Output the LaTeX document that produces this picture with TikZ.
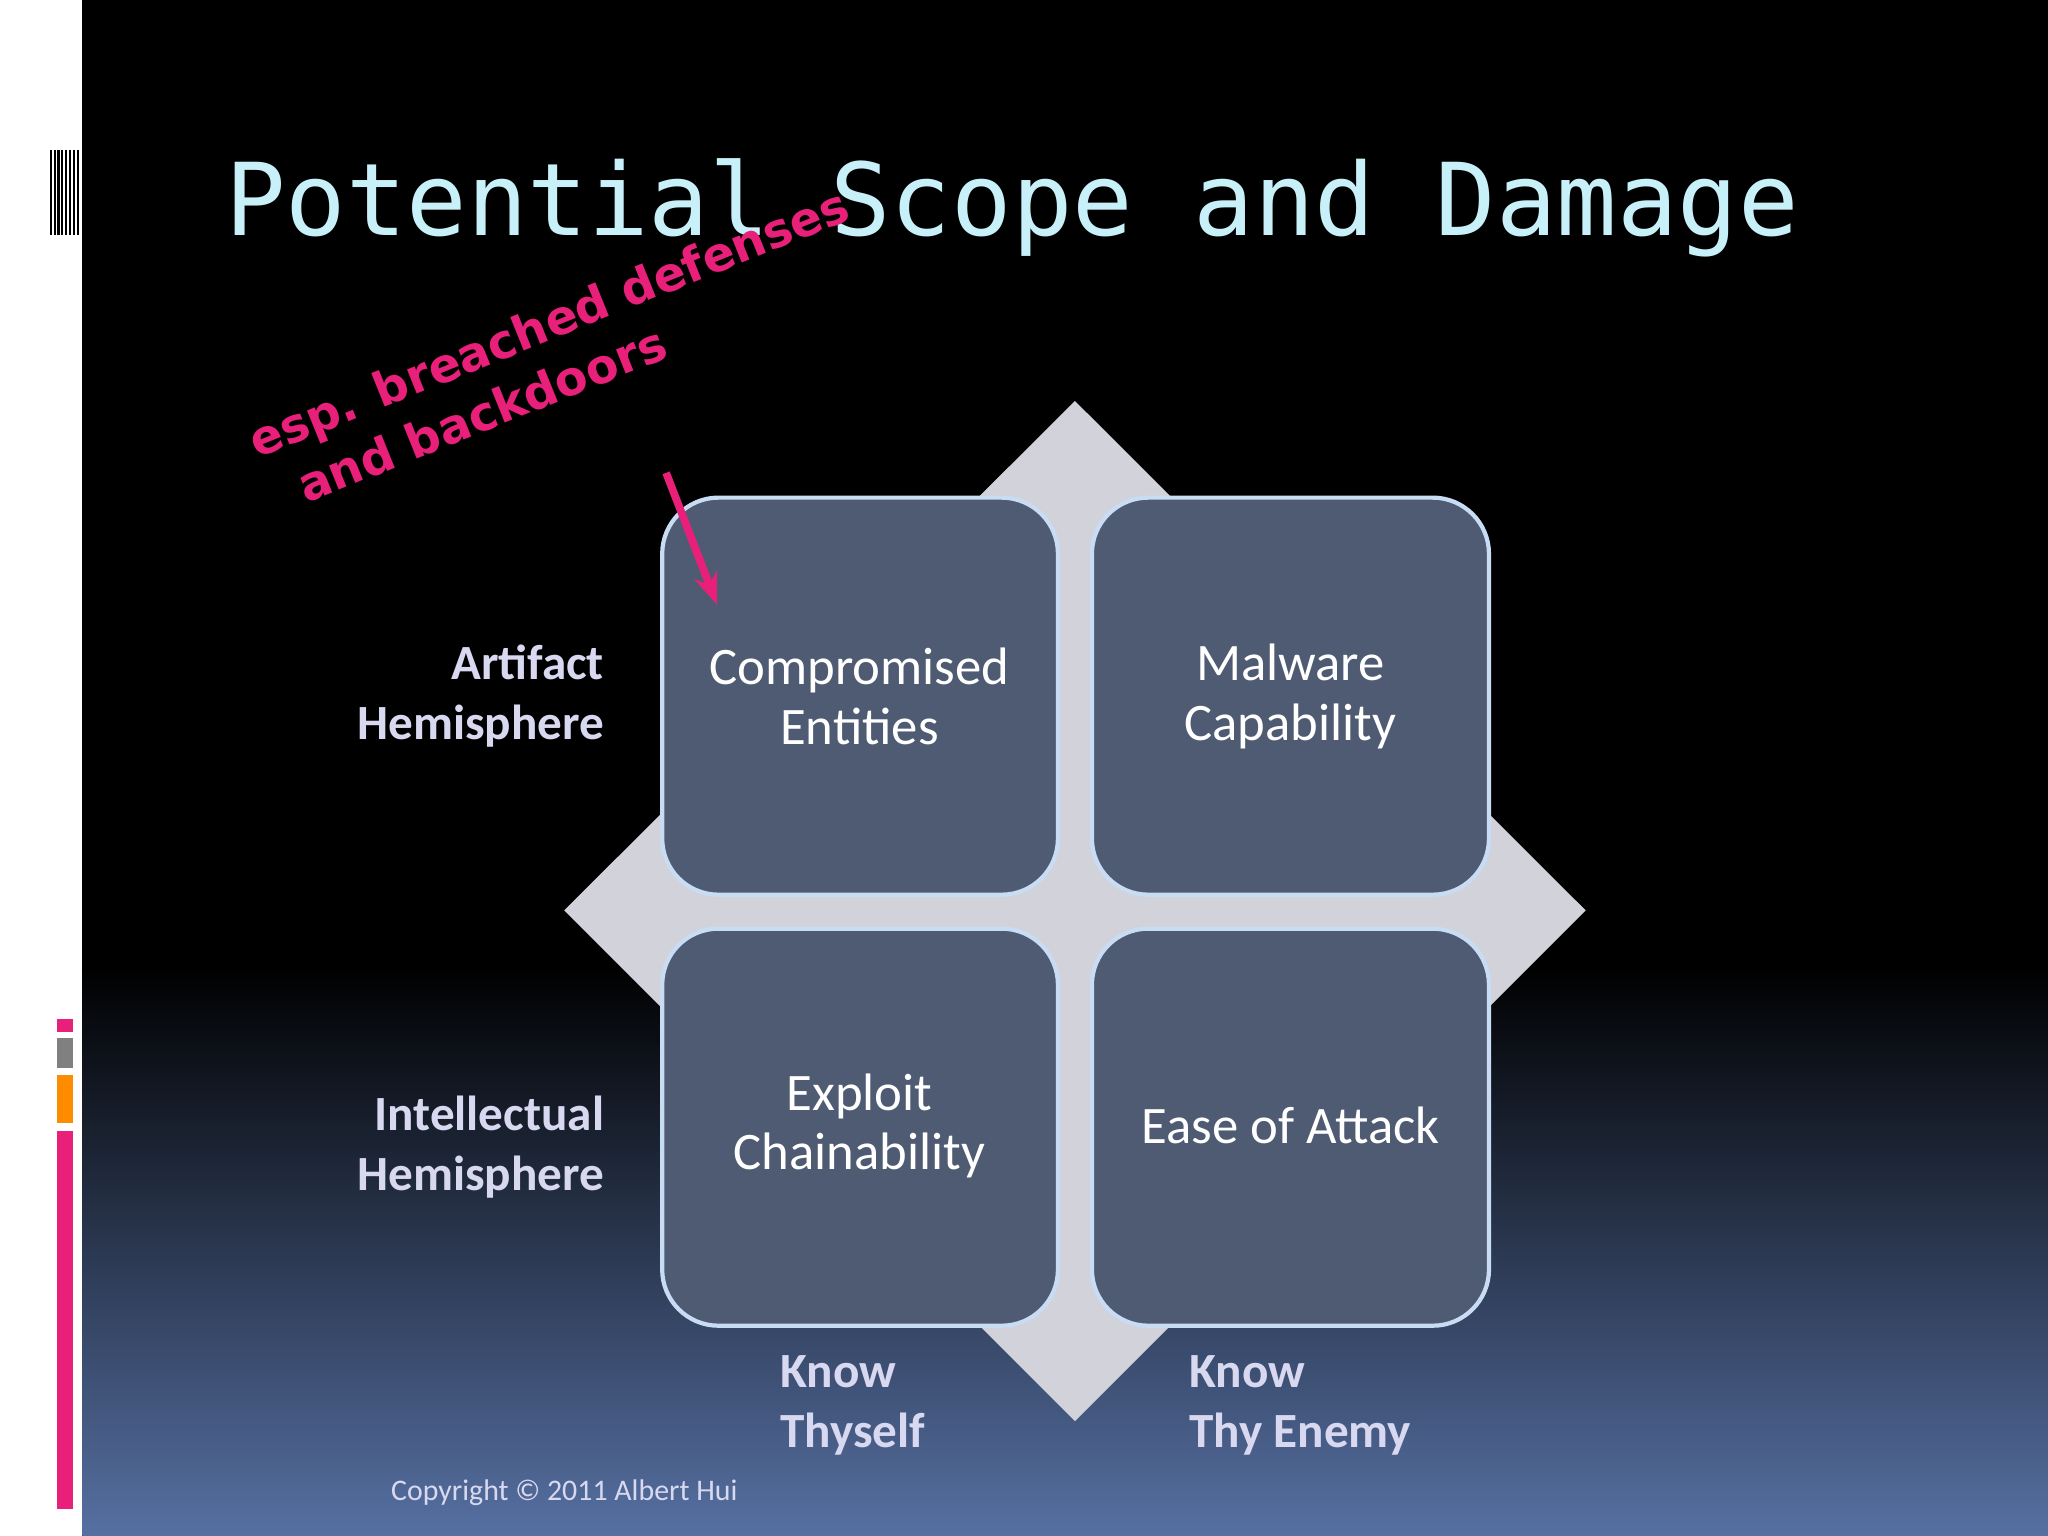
\documentclass[tikz,border=0pt]{standalone}
\usepackage{fontspec}
\usetikzlibrary{arrows.meta}
\setmainfont{Carlito}
\newfontfamily\titlefont{DejaVu Sans Mono}
\newfontfamily\pinkfont{DejaVu Sans}
\definecolor{boxfill}{HTML}{4F5B72}
\definecolor{boxline}{HTML}{C8DCF4}
\definecolor{diam}{HTML}{D2D2DA}
\definecolor{lbl}{HTML}{D8D8F0}
\definecolor{pinkc}{HTML}{E8207A}
\definecolor{titlec}{HTML}{C8F0F8}
\definecolor{bluebg}{HTML}{5670A2}
\tikzset{x=0.013061cm,y=-0.013061cm,
 quad/.style={draw=boxline,line width=1.2pt,fill=boxfill,rounded corners=16pt},
 qtext/.style={text=white,font=\fontsize{15}{17}\selectfont,align=center},
 side/.style={text=lbl,font=\bfseries\fontsize{14}{17}\selectfont}}
\begin{document}
\begin{tikzpicture}
\useasboundingbox (0,0) rectangle (1568,1176);
\fill[white] (0,0) rectangle (63,1176);
\fill[black] (63,0) rectangle (1568,1176);
\shade[top color=black,bottom color=bluebg] (63,740) rectangle (1568,1176);
% left bars
\foreach \x in {38,41,44,47,50,53,56,59} \fill[black] (\x,115) rectangle (\x+1.6,180);
\fill[pinkc] (44,780) rectangle (56,790);
\fill[gray] (44,795) rectangle (56,818);
\fill[orange!90!yellow] (44,823) rectangle (56,860);
\fill[pinkc] (44,866) rectangle (56,1155);
% title
\node[anchor=base west,text=titlec,font=\titlefont\fontsize{28.6}{31}\selectfont,inner sep=0] (title) at (172,180) {Potential Scope and Damage};
% diamond
\fill[diam] (823,307) -- (1214,697) -- (823,1088) -- (432,697) -- cycle;
% quads
\draw[quad] (507,381) rectangle (810,685);
\draw[quad] (836,381) rectangle (1140,685);
\draw[quad] (507,711) rectangle (810,1015);
\draw[quad] (836,711) rectangle (1140,1015);
\node[qtext] (ce) at (658,533) {Compromised\\Entities};
\node[qtext] (mc) at (988,533) {Malware\\Capability};
\node[qtext] (ec) at (658,862) {Exploit\\Chainability};
\node[qtext] (ea) at (988,862) {Ease of Attack};
% side labels
\node[side,align=right,anchor=east] (ah) at (472,533) {Artifact\\Hemisphere};
\node[side,align=right,anchor=east] (ih) at (472,878) {Intellectual\\Hemisphere};
\node[side,align=left,anchor=west] (kt) at (588,1076) {Know\\Thyself};
\node[side,align=left,anchor=west] (ke) at (901,1076) {Know\\Thy Enemy};
\node[anchor=base west,text=lbl,font=\fontsize{8.5}{10}\selectfont] (copy) at (290,1149) {Copyright © 2011 Albert Hui};
% pink annotation
\node[rotate=22,text=pinkc,font=\pinkfont\bfseries\fontsize{13.5}{17}\selectfont,align=left,anchor=south west,inner sep=0] (esp) at (214,395) {esp. breached defenses\\\hspace{0.6em}and backdoors};
\coordinate (tip) at (549,463);
\draw[pinkc,line width=2.2pt,-{Stealth[length=9pt]}] (510,362) -- (tip);
\end{tikzpicture}
\end{document}
